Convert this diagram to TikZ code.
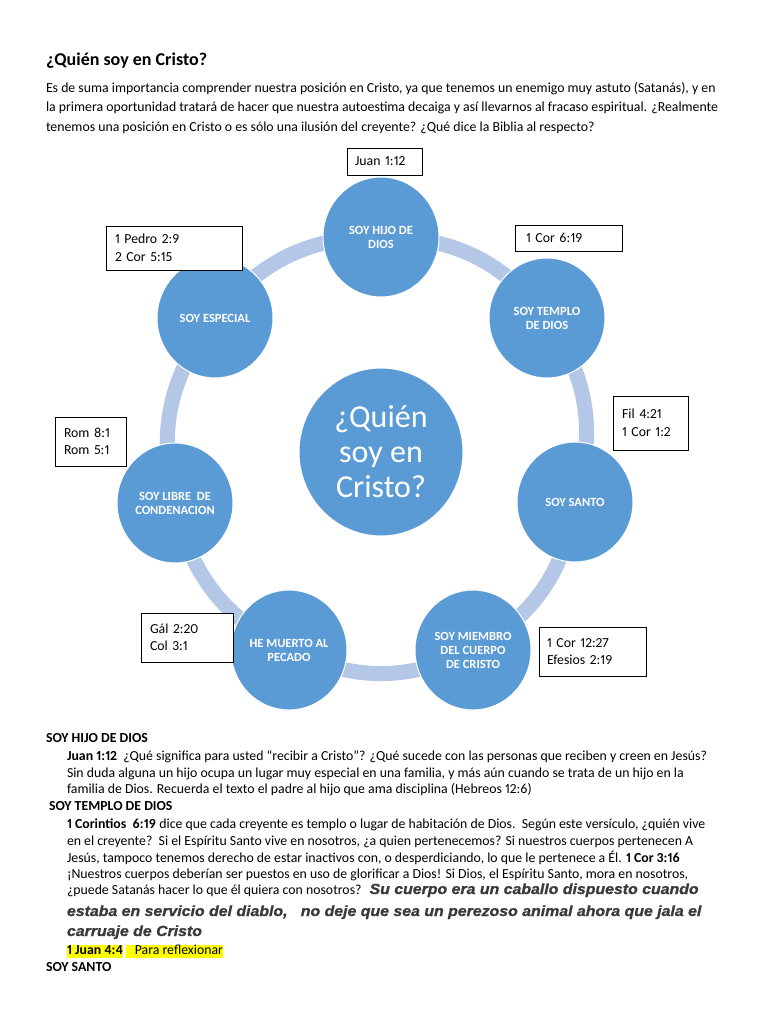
\documentclass[tikz,border=0pt]{standalone}
\usepackage{fontspec}
\setmainfont{Carlito}[Numbers=Proportional]
\newfontfamily\bifont{Liberation Sans}[FakeStretch=1.08, FakeBold=1.2]
\usetikzlibrary{shapes.geometric,backgrounds}
\definecolor{cblue}{HTML}{5B9BD5}
\definecolor{cring}{HTML}{B4C7E7}
\definecolor{hlyel}{HTML}{FFFF00}
\definecolor{bigrey}{HTML}{3A3A3A}
\newcommand{\bodyfont}{\fontsize{13.8}{17}\selectfont}
\begin{document}
\begin{tikzpicture}[x=1pt,y=-1pt,
  every node/.style={inner sep=0pt, outer sep=0pt},
  txt/.style={anchor=base west, font=\bodyfont},
  head/.style={anchor=base west, font=\bodyfont\bfseries},
  sat/.style={ellipse, fill=cblue, draw=white, line width=1pt, minimum width=116pt, minimum height=120pt, text=white, font=\fontsize{12.5}{14}\selectfont\bfseries, align=center},
  hub/.style={ellipse, fill=cblue, draw=white, line width=1pt, minimum width=164pt, minimum height=168pt, text=white, font=\fontsize{32}{35}\selectfont, align=center},
  refbox/.style={draw=black, line width=0.8pt, fill=white, anchor=north west, align=left, inner xsep=9pt, font=\fontsize{13.8}{17.5}\selectfont},
  bi/.style={anchor=base west, font=\bifont\bfseries\itshape\fontsize{14.7}{19}\selectfont, text=bigrey},
  ringline/.style={cring, line width=15pt},
  hl/.style={anchor=base west, fill=hlyel, font=\bodyfont, text height=9.8pt, text depth=3.5pt}
]
\useasboundingbox (0,0) rectangle (768,1024);

% title and intro
\node[anchor=base west, font=\fontsize{18}{20}\selectfont\bfseries] (title) at (46,66) {¿Quién soy en Cristo?};
\node[txt] (i1) at (46,93) {Es de suma importancia comprender nuestra posición en Cristo, ya que tenemos un enemigo muy astuto (Satanás), y en};
\node[txt] (i2) at (46,112) {la primera oportunidad tratará de hacer que nuestra autoestima decaiga y así llevarnos al fracaso espiritual. ¿Realmente};
\node[txt] (i3) at (46,131.5) {tenemos una posición en Cristo o es sólo una ilusión del creyente? ¿Qué dice la Biblia al respecto?};

% circles
\node[hub] (hub) at (381,452) {¿Quién\\soy en\\Cristo?};
\node[sat] (hijo) at (381,237) {SOY HIJO DE\\DIOS};
\node[sat] (templo) at (547,318) {SOY TEMPLO\\DE DIOS};
\node[sat] (santo) at (575,502) {SOY SANTO};
\node[sat] (miembro) at (473,650) {SOY MIEMBRO\\DEL CUERPO\\DE CRISTO};
\node[sat] (muerto) at (289,650) {HE MUERTO AL\\PECADO};
\node[sat] (libre) at (175,503) {SOY LIBRE\ \ DE\\CONDENACION};
\node[sat] (especial) at (215,318) {SOY ESPECIAL};

\begin{scope}[on background layer]
  \draw[ringline] (hijo.center) to[bend left=26] (templo.center);
  \draw[ringline] (templo.center) to[bend left=26] (santo.center);
  \draw[ringline] (santo.center) to[bend left=26] (miembro.center);
  \draw[ringline] (miembro.center) to[bend left=26] (muerto.center);
  \draw[ringline] (muerto.center) to[bend left=26] (libre.center);
  \draw[ringline] (libre.center) to[bend left=26] (especial.center);
  \draw[ringline] (especial.center) to[bend left=26] (hijo.center);
\end{scope}

% reference boxes
\node[refbox, inner xsep=8pt, text width=59pt, minimum height=27pt] (rjuan) at (347,148) {Juan 1:12};
\node[refbox, text width=118pt, minimum height=44pt] (rpedro) at (106,226) {1 Pedro 2:9\\2 Cor 5:15};
\node[refbox, inner xsep=11pt, text width=85pt, minimum height=26pt] (rcor) at (515,225) {1 Cor 6:19};
\node[refbox, text width=57pt, minimum height=54pt] (rfil) at (613,396) {Fil 4:21\\1 Cor 1:2};
\node[refbox, text width=53pt, minimum height=49pt] (rrom) at (55,417) {Rom 8:1\\Rom 5:1};
\node[refbox, text width=74pt, minimum height=49pt] (rgal) at (141,613) {Gál 2:20\\Col 3:1};
\node[refbox, inner xsep=8pt, text width=91pt, minimum height=49pt] (rcor2) at (539,627) {1 Cor 12:27\\Efesios 2:19};

% bottom text
\node[head] (h1) at (46,742) {SOY HIJO DE DIOS};
\node[txt] (a1) at (67,760) {\textbf{Juan 1:12}\ \ ¿Qué significa para usted “recibir a Cristo”? ¿Qué sucede con las personas que reciben y creen en Jesús?};
\node[txt] (a2) at (67,777) {Sin duda alguna un hijo ocupa un lugar muy especial en una familia, y más aún cuando se trata de un hijo en la};
\node[txt] (a3) at (67,793) {familia de Dios. Recuerda el texto el padre al hijo que ama disciplina (Hebreos 12:6)};
\node[head] (h2) at (49,810.5) {SOY TEMPLO DE DIOS};
\node[txt] (b1) at (67,828.5) {\textbf{1 Corintios\ \ 6:19} dice que cada creyente es templo o lugar de habitación de Dios.\ \ Según este versículo, ¿quién vive};
\node[txt] (b2) at (67,845.5) {en el creyente?\ \ Si el Espíritu Santo vive en nosotros, ¿a quien pertenecemos? Si nuestros cuerpos pertenecen A};
\node[txt] (b3) at (67,862) {Jesús, tampoco tenemos derecho de estar inactivos con, o desperdiciando, lo que le pertenece a Él. \textbf{1 Cor 3:16}};
\node[txt] (b4) at (67,878) {¡Nuestros cuerpos deberían ser puestos en uso de glorificar a Dios! Si Dios, el Espíritu Santo, mora en nosotros,};
\node[txt] (b5) at (67,894) {¿puede Satanás hacer lo que él quiera con nosotros?};
\node[bi] (c1) at ([xshift=8pt]b5.base east) {Su cuerpo era un caballo dispuesto cuando};
\node[bi] (c2) at (67,916) {estaba en servicio del diablo,\ \ \ no deje que sea un perezoso animal ahora que jala el};
\node[bi] (c3) at (67,936) {carruaje de Cristo};
\node[hl] (d1) at (67,954.5) {\textbf{1 Juan 4:4}};
\node[hl, anchor=base west] (d2) at ([xshift=3pt]d1.base east) {\hspace{9pt}Para reflexionar};
\node[head] (h3) at (46,971) {SOY SANTO};
\end{tikzpicture}
\end{document}
